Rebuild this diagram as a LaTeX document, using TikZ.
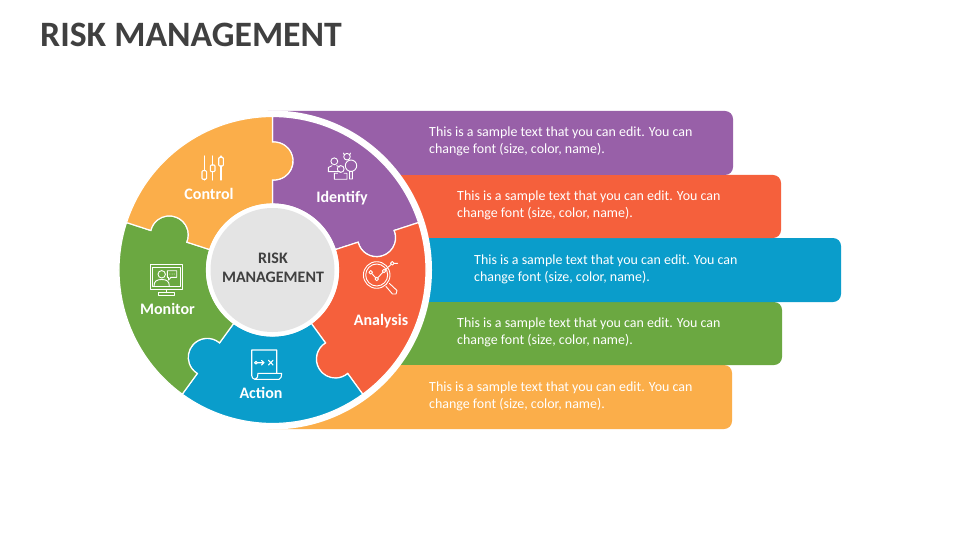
\documentclass[tikz,border=0pt]{standalone}
\usepackage{fontspec}
\setmainfont{Carlito}
\definecolor{cpurple}{HTML}{9860A8}
\definecolor{cred}{HTML}{F5603C}
\definecolor{cblue}{HTML}{0A9DCB}
\definecolor{cgreen}{HTML}{6BA841}
\definecolor{cyellow}{HTML}{FBAE4A}
\definecolor{cgray}{HTML}{E4E4E4}
\definecolor{cdark}{HTML}{404040}
\newcommand{\barshape}[4]{\fill[#1,rounded corners=8pt] (260,#2) -- (#3,#2) -- (#3,#4) -- (260,#4) -- cycle;}
\newcommand{\puzzle}[2]{%
\begin{scope}[shift={(272.5,270)},y=1pt,rotate=#1]
\filldraw[fill=#2,draw=white,line width=1.2pt]
 (90:66) -- (90:90.06) arc (-94.5:94.5:19pt) -- (90:153.5) arc (90:18:153.5pt) -- (18:127.94)
 arc (22.5:-166.5:19pt) -- (18:66) arc (18:90:66pt) -- cycle;
\end{scope}}
\tikzset{
 bodytext/.style={text=white,font=\fontsize{13.95}{17}\selectfont,anchor=west,align=left,inner sep=0pt},
 seglabel/.style={text=white,font=\fontsize{16}{18}\selectfont\bfseries,inner sep=0pt},
 icon/.style={draw=white,line width=1.1pt,line join=round,line cap=round,fill=none}
}
\begin{document}
\begin{tikzpicture}[x=1pt,y=-1pt]
\useasboundingbox (0,0) rectangle (960,540);
\fill[white] (0,0) rectangle (960,540);
\node[anchor=west,text=cdark,font=\fontsize{35.7}{40}\selectfont\bfseries,inner sep=0pt] (title) at (40,35) {RISK MANAGEMENT};
\barshape{cyellow}{365}{732}{429}
\barshape{cgreen}{302}{782}{365}
\barshape{cblue}{238}{841}{302}
\barshape{cred}{175}{781}{238}
\barshape{cpurple}{111}{733}{175}
\fill[cred] (380,175) rectangle (500,190);
\fill[cblue] (380,238) rectangle (500,250);
\fill[cgreen] (380,302) rectangle (500,315);
\fill[cyellow] (260,365) rectangle (500,380);
\fill[white] (272.5,270) circle[radius=159.5pt];
\puzzle{0}{cpurple}
\puzzle{-72}{cred}
\puzzle{-144}{cblue}
\puzzle{-216}{cgreen}
\puzzle{-288}{cyellow}
\fill[white] (272.5,270) circle[radius=66.5pt];
\node[circle,fill=cgray,minimum size=124pt,inner sep=0pt] (hub) at (272.5,270) {};
\node[text=cdark,font=\fontsize{16}{19}\selectfont\bfseries,align=center,inner sep=0pt] (hubtext) at (273,267.5) {RISK\\MANAGEMENT};
\node[seglabel] (control) at (209,193.5) {Control};
\node[seglabel] (identify) at (342,198.5) {Identify};
\node[seglabel] (analysis) at (381,321.5) {Analysis};
\node[seglabel] (monitor) at (167.5,308.5) {Monitor};
\node[seglabel] (action) at (261,392.5) {Action};
\node[bodytext] (t1) at (429,141.5) {This is a sample text that you can edit. You can\\change font (size, color, name).};
\node[bodytext] (t2) at (457,205.5) {This is a sample text that you can edit. You can\\change font (size, color, name).};
\node[bodytext] (t3) at (474,269.5) {This is a sample text that you can edit. You can\\change font (size, color, name).};
\node[bodytext] (t4) at (457,332.5) {This is a sample text that you can edit. You can\\change font (size, color, name).};
\node[bodytext] (t5) at (429,396.5) {This is a sample text that you can edit. You can\\change font (size, color, name).};
% control icon
\draw[icon] (204.3,156)--(204.3,170.7) (204.3,179.3)--(204.3,180) (212.7,156)--(212.7,165) (212.7,171.7)--(212.7,180) (221,156)--(221,157.3) (221,166)--(221,180);
\draw[icon,rounded corners=1pt] (202,170.7) rectangle (206.6,179.3) (210.4,165) rectangle (215,171.7) (218.7,157.3) rectangle (223.3,166);
% identify icon
\draw[icon,line width=0.9pt] (351,165.7) circle[radius=5.7pt] (349.6,171.5)--(349.6,179) --(352.4,179)--(352.4,171.5);
\draw[icon,line width=0.9pt] (347,156.7) circle[radius=3.3pt] (344,154.5)--(343.5,153) (350,154.5)--(350.5,153);
\draw[icon,line width=0.9pt] (334.3,161.3) circle[radius=3.4pt] (340,171.7)--(328.3,171.7)--(328.3,167.5)--(332,165.7) (336.6,165.7)--(340,167);
\draw[icon,line width=0.9pt] (340.7,169) circle[radius=3.4pt] (337.5,173.3)--(334.3,173.3)--(334.3,179.3)--(347,179.3)--(347,173.3)--(344,173.3);
% analysis icon
\draw[icon,line width=0.9pt] (376.7,275) circle[radius=13.3pt] (376.7,275) circle[radius=11pt];
\draw[icon,line width=0.9pt] (386,286.5)--(392.5,294)--(396,294) --(397,290.5)--(389.5,283.5);
\draw[icon,line width=0.9pt] (370.7,272.3)--(376.7,279)--(384,271)--(392.3,263.3)--(397.7,263.3);
\filldraw[icon,fill=cred,line width=0.9pt] (370.7,272.3) circle[radius=1.8pt] (376.7,279) circle[radius=1.8pt] (384,271) circle[radius=1.8pt] (392.3,263.3) circle[radius=1.8pt];
% monitor icon
\draw[icon,line width=0.9pt] (150.7,264.7) rectangle (182.7,289.3) (152.7,267.3) rectangle (180.7,286.7);
\draw[icon,line width=0.9pt] (166.7,289.3)--(166.7,292.7) (158.3,292.7) rectangle (174.3,295.3);
\draw[icon,line width=0.9pt] (161.7,274.3) circle[radius=3.7pt] (154,286) .. controls (154,281) and (157,279.5) .. (161.7,279.5) .. controls (166.4,279.5) and (169.3,281) .. (169.3,286);
\draw[icon,line width=0.9pt] (167.3,270.7)--(176.7,270.7)--(176.7,277.3)--(171,277.3)--(168.5,280)--(168.5,277.3)--(167.3,277.3)--cycle;
\fill[white] (169.8,274) circle[radius=0.5pt] (172,274) circle[radius=0.5pt] (174.2,274) circle[radius=0.5pt];
% action icon
\draw[icon] (255,379.3) .. controls (253,379) and (251.7,377.5) .. (251.7,375.5) -- (251.7,350) -- (276.7,350) -- (276.7,373.3);
\draw[icon] (255,379.3) -- (279,379.3) .. controls (281,379) and (281.7,376) .. (281.7,373.3) -- (258,373.3) .. controls (258,376) and (257.5,379) .. (255,379.3);
\draw[icon] (256,362.7) circle[radius=1.4pt] (257.4,362.7)--(264,362.7) (261.6,360.5)--(264,362.7)--(261.6,364.9) (268.5,360.3)--(273,365) (273,360.3)--(268.5,365);
\end{tikzpicture}
\end{document}
